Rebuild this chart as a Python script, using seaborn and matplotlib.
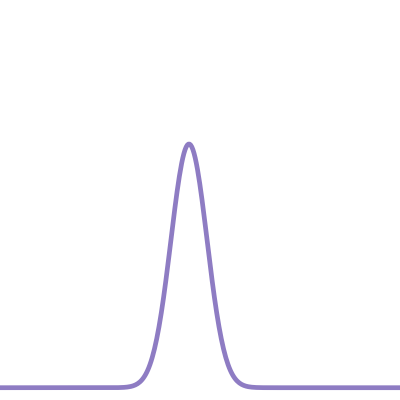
import matplotlib
matplotlib.use("Agg")
import matplotlib.pyplot as plt
import seaborn as sns
import pandas as pd

# sample values (in plot units, 0..400 across the width)
samples = [177, 183, 187, 189, 191, 195, 201]
line_color = "#8e7cc3"

data = pd.DataFrame({"value": samples})

sns.set_style("white")
fig = plt.figure(figsize=(4, 4), dpi=100)
ax = fig.add_axes([0, 0, 1, 1])
sns.kdeplot(data=data, x="value", bw_method=2.1, cut=13, gridsize=400,
            color=line_color, linewidth=3.4, ax=ax)

peak = ax.lines[0].get_ydata().max()
span = peak / 0.609
ax.set_xlim(0, 400)
ax.set_ylim(-0.03075 * span, 0.96925 * span)
ax.set_axis_off()

fig.savefig("out.png", dpi=100)
